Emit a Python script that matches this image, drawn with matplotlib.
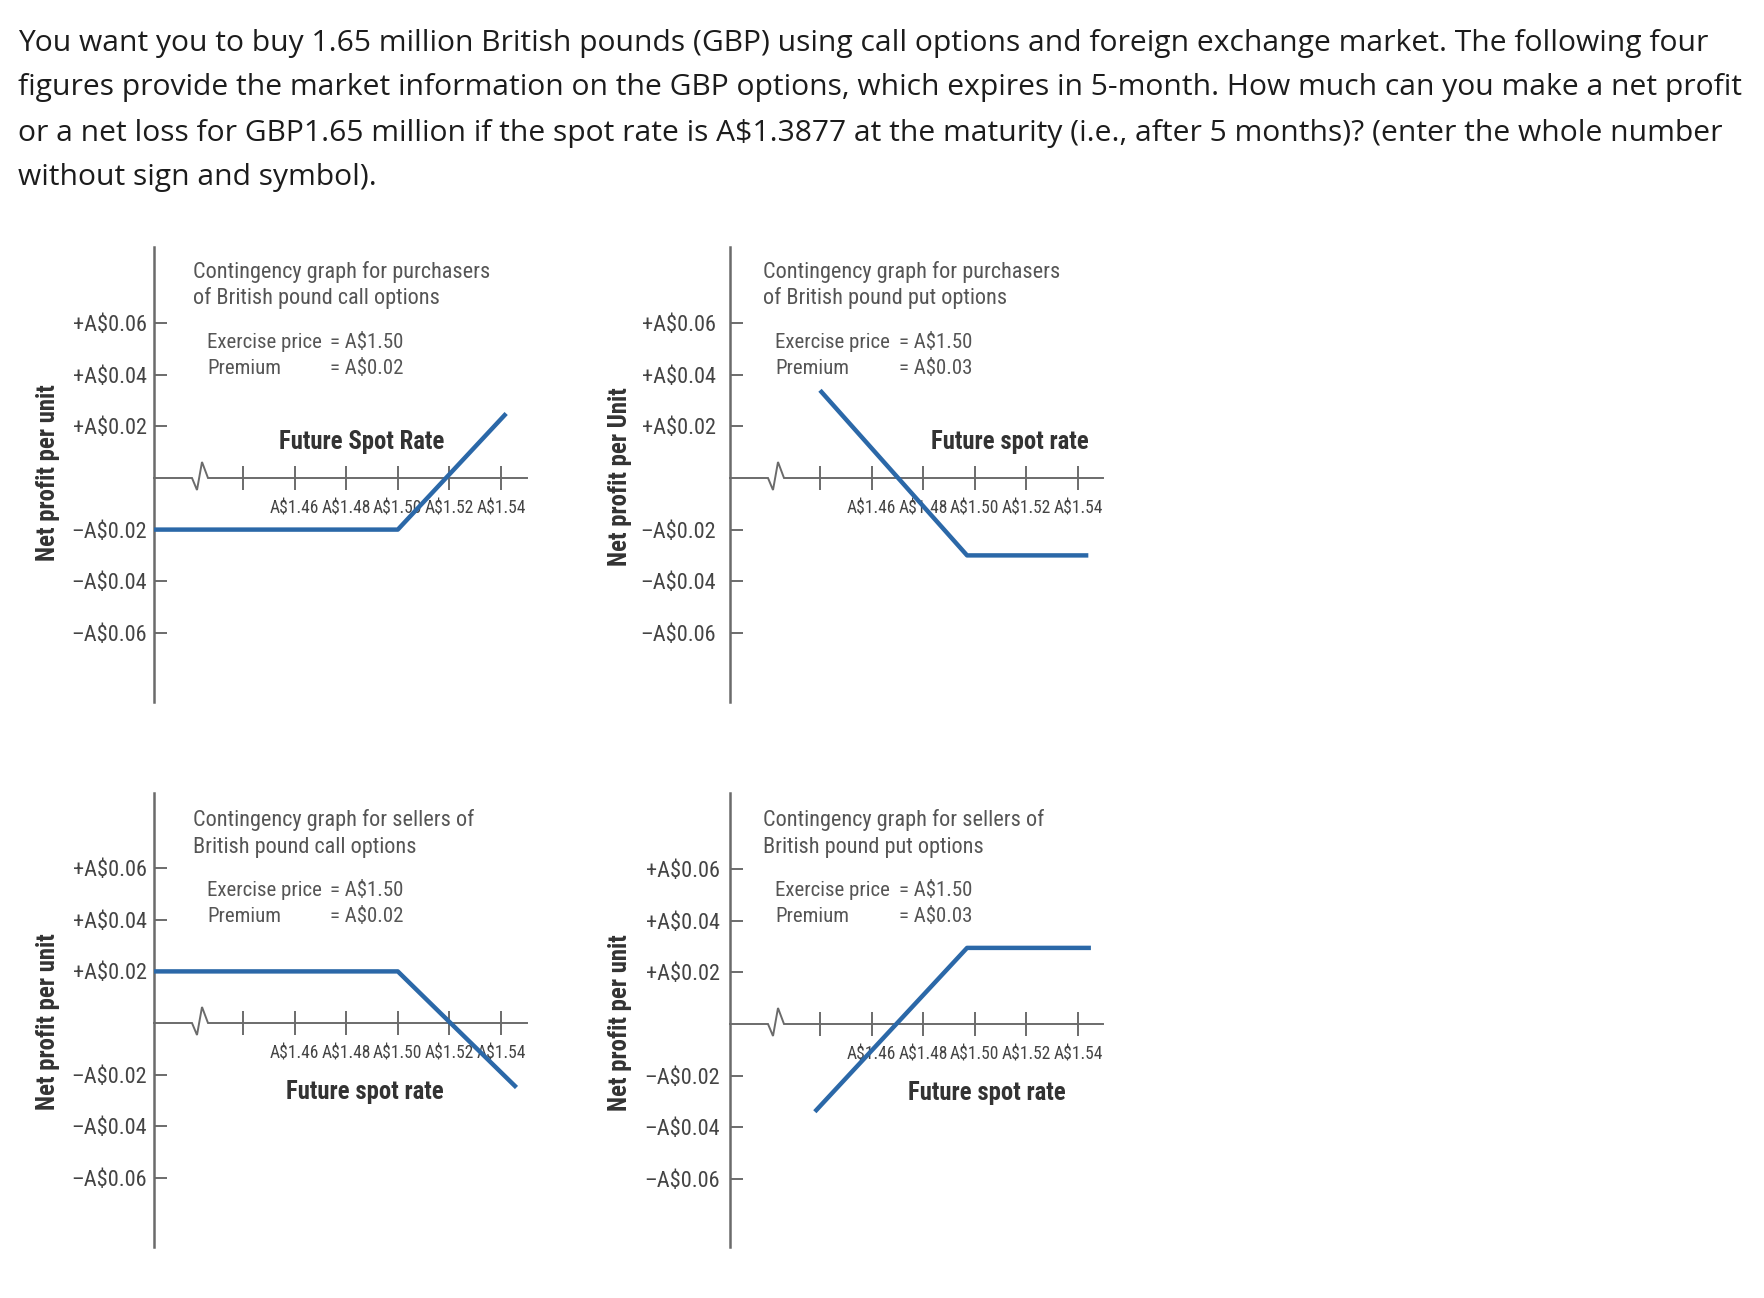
import matplotlib
matplotlib.use("Agg")
import matplotlib.pyplot as plt
from matplotlib import font_manager as fm

plt.rcParams["text.parse_math"] = False

W, H = 1764, 1298
DPI = 100

question_lines = [
    "You want you to buy 1.65 million British pounds (GBP) using call options and foreign exchange market. The following four",
    "figures provide the market information on the GBP options, which expires in 5-month. How much can you make a net profit",
    "or a net loss for GBP1.65 million if the spot rate is A$1.3877 at the maturity (i.e., after 5 months)? (enter the whole number",
    "without sign and symbol).",
]

spot_ticks = [1.44, 1.46, 1.48, 1.50, 1.52, 1.54]
spot_labels = ["", "A$1.46", "A$1.48", "A$1.50", "A$1.52", "A$1.54"]
profit_ticks = [0.06, 0.04, 0.02, -0.02, -0.04, -0.06]
profit_labels = ["+A$0.06", "+A$0.04", "+A$0.02", "–A$0.02", "–A$0.04", "–A$0.06"]

titles = [
    ["Contingency graph for purchasers", "of British pound call options"],
    ["Contingency graph for purchasers", "of British pound put options"],
    ["Contingency graph for sellers of", "British pound call options"],
    ["Contingency graph for sellers of", "British pound put options"],
]
premiums = ["A$0.02", "A$0.03", "A$0.02", "A$0.03"]
exercise = "A$1.50"
xlabels = ["Future Spot Rate", "Future spot rate", "Future spot rate", "Future spot rate"]
ylabels = ["Net profit per unit", "Net profit per Unit", "Net profit per unit", "Net profit per unit"]

# payoff lines (spot rate, net profit per unit)
buy_call_x = [1.40, 1.50, 1.542]
buy_call_y = [-0.02, -0.02, 0.025]
buy_put_x = [1.44, 1.497, 1.544]
buy_put_y = [0.034, -0.030, -0.030]
sell_call_x = [1.40, 1.50, 1.546]
sell_call_y = [0.02, 0.02, -0.025]
sell_put_x = [1.438, 1.497, 1.545]
sell_put_y = [-0.034, 0.0295, 0.0295]
payoffs = [(buy_call_x, buy_call_y), (buy_put_x, buy_put_y),
           (sell_call_x, sell_call_y), (sell_put_x, sell_put_y)]

# layout in pixels: y-axis x, x of first tick, right end, top, zero line, bottom
panels = [
    dict(ax0=154, t0=243, right=527, top=247, zero=478, bottom=702, ypad=5,
         title=(193, 272, 298), ex=(207, 330, 343, 368), xl=(362, 442), yl=(48, 473)),
    dict(ax0=730, t0=820, right=1103, top=247, zero=478, bottom=702, ypad=10,
         title=(763, 272, 298), ex=(775, 899, 343, 368), xl=(1010, 442), yl=(620, 477)),
    dict(ax0=154, t0=243, right=527, top=793, zero=1023, bottom=1247, ypad=5,
         title=(193, 820, 847), ex=(207, 330, 890, 917), xl=(365, 1092), yl=(48, 1022)),
    dict(ax0=730, t0=820, right=1103, top=793, zero=1024, bottom=1247, ypad=7,
         title=(763, 820, 847), ex=(775, 899, 890, 917), xl=(987, 1093), yl=(620, 1023)),
]
PX_PER_UNIT = 2580.0

# pick a narrow face for the graph text
ttf = fm.fontManager.ttflist
avail = {f.name for f in ttf}
narrow, stretch = "Roboto", "normal"
for cand in ["Liberation Sans Narrow", "Roboto Condensed", "DejaVu Sans Condensed", "Open Sans Condensed"]:
    if cand in avail:
        narrow = cand
        break
else:
    if any(f.name == "DejaVu Sans" and f.stretch in ("condensed", "semi-condensed") for f in ttf):
        narrow, stretch = "DejaVu Sans", "condensed"

axis_col = "#6b6b6b"
text_col = "#444444"
line_col = "#2b68a8"

fig = plt.figure(figsize=(W / DPI, H / DPI), dpi=DPI)
renderer = fig.canvas.get_renderer()


def fit_size(text, target_px, family, weight="normal", stretch="normal"):
    t = fig.text(0, 0, text, fontsize=20, family=family, fontweight=weight, fontstretch=stretch)
    w = t.get_window_extent(renderer).width
    t.remove()
    return 20 * target_px / w


# reference face is narrower than what is installed, so allow a bit of extra width
q_size = fit_size(question_lines[0], 1686, "Open Sans")
title_size = fit_size("Contingency graph for purchasers", 280, narrow, stretch=stretch) * 1.06
ex_size = fit_size("Exercise price", 115, narrow, stretch=stretch)
ytick_size = fit_size("+A$0.06", 67, narrow, stretch=stretch) * 1.1
xtick_size = fit_size("A$1.46", 47, narrow, stretch=stretch) * 1.05
bold_size = fit_size("Future Spot Rate", 153, narrow, "bold", stretch) * 1.08

for i, line in enumerate(question_lines):
    fig.text(18 / W, 1 - (43 + 45 * i) / H, line, fontsize=q_size, family="Open Sans",
             color="#1c1c1c", va="center", ha="left")


def fx(px):
    return px / W


def fy(px):
    return 1 - px / H


for p, (px_, py_), ttl, prem, xl, yl in zip(panels, payoffs, titles, premiums, xlabels, ylabels):
    ax = fig.add_axes([fx(p["ax0"]), fy(p["bottom"]), (p["right"] - p["ax0"]) / W,
                       (p["bottom"] - p["top"]) / H])
    x_lo = spot_ticks[0] - (p["t0"] - p["ax0"]) / PX_PER_UNIT
    x_hi = spot_ticks[0] + (p["right"] - p["t0"]) / PX_PER_UNIT
    y_lo = -(p["bottom"] - p["zero"]) / PX_PER_UNIT
    y_hi = (p["zero"] - p["top"]) / PX_PER_UNIT
    ax.set_xlim(x_lo, x_hi)
    ax.set_ylim(y_lo, y_hi)
    ax.patch.set_alpha(0)
    for s in ["top", "right", "bottom"]:
        ax.spines[s].set_visible(False)
    ax.spines["bottom"].set_position(("data", 0))
    ax.spines["left"].set_color(axis_col)
    ax.spines["left"].set_linewidth(1.8)

    # x axis with a break near the origin
    d = 1 / PX_PER_UNIT
    brk = [(0, 0), (38, 0), (43, -12), (48, 16), (54, 0)]
    xs = [x_lo + bx * d for bx, by in brk] + [x_hi]
    ys = [by * d for bx, by in brk] + [0]
    ax.plot(xs, ys, color=axis_col, lw=1.4, solid_joinstyle="miter", clip_on=False)

    ax.set_xticks(spot_ticks)
    ax.set_xticklabels(spot_labels, family=narrow, fontstretch=stretch, fontsize=xtick_size, color=text_col)
    ax.tick_params(axis="x", direction="inout", length=17, width=1.4, color=axis_col, pad=7)
    ax.set_yticks(profit_ticks)
    ax.set_yticklabels(profit_labels, family=narrow, fontstretch=stretch, fontsize=ytick_size, color=text_col)
    ax.tick_params(axis="y", direction="in", length=9.5, width=1.4, color=axis_col, pad=p["ypad"])

    ax.plot(px_, py_, color=line_col, lw=3.2, solid_capstyle="butt", zorder=5)

    kw = dict(family=narrow, fontstretch=stretch, fontsize=title_size, color="#555555", va="center")
    tx, ty1, ty2 = p["title"]
    fig.text(fx(tx), fy(ty1), ttl[0], **kw)
    fig.text(fx(tx), fy(ty2), ttl[1], **kw)
    kw["fontsize"] = ex_size
    ex, eq, ey1, ey2 = p["ex"]
    fig.text(fx(ex), fy(ey1), "Exercise price", **kw)
    fig.text(fx(eq), fy(ey1), "= " + exercise, **kw)
    fig.text(fx(ex), fy(ey2), "Premium", **kw)
    fig.text(fx(eq), fy(ey2), "= " + prem, **kw)

    bkw = dict(family=narrow, fontstretch=stretch, fontsize=bold_size, fontweight="bold",
               color="#333333", ha="center", va="center")
    fig.text(fx(p["xl"][0]), fy(p["xl"][1]), xl, **bkw)
    fig.text(fx(p["yl"][0]), fy(p["yl"][1]), yl, rotation=90, **bkw)

fig.savefig("out.png", dpi=DPI, facecolor="white")
